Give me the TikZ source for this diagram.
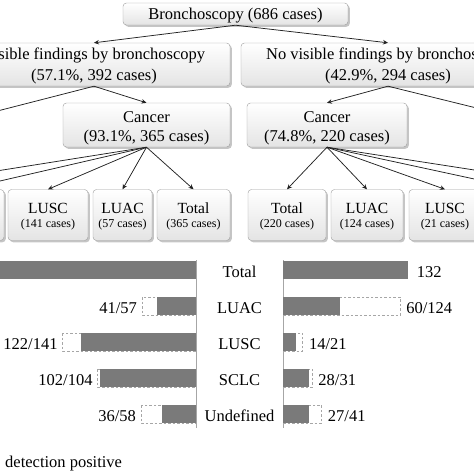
\documentclass[tikz,border=0pt]{standalone}
\usepackage{fontspec}
\setmainfont{Liberation Serif}
\usetikzlibrary{arrows.meta,shadows}
\definecolor{boxline}{HTML}{9C9C9C}
\definecolor{boxshade}{HTML}{E4E4E4}
\definecolor{barfill}{HTML}{7A7A7A}
\definecolor{axisgray}{HTML}{A6A6A6}
\definecolor{linkgray}{HTML}{222222}
\tikzset{
  casebox/.style={draw=boxline, rounded corners=3.5pt, align=center,
    top color=white, bottom color=boxshade, inner sep=0pt,
    drop shadow={shadow xshift=1.8pt, shadow yshift=-1.8pt, fill=black!45},
    font=\fontsize{16.5}{19}\selectfont},
  typebox/.style={casebox, minimum height=51pt, font=\fontsize{15.5}{16}\selectfont},
  link/.style={-{Stealth[length=5pt,width=4.5pt]}, line width=0.75pt, draw=linkgray},
  dashbox/.style={draw=axisgray, dash pattern=on 2.5pt off 2pt, line width=0.7pt},
  barlabel/.style={inner sep=0pt, yshift=-1.8pt, font=\fontsize{16.5}{18}\selectfont}
}
% text lines of a box, lowered a little inside it
\newcommand{\boxlines}[2]{\raisebox{#1}[0pt][0pt]{\begin{tabular}{@{}c@{}}#2\end{tabular}}}
\newcommand{\ncases}[1]{\\[-2.5pt]{\fontsize{12}{13}\selectfont(#1 cases)}}

\begin{document}
\begin{tikzpicture}[x=1pt,y=-1pt]
  \useasboundingbox (0,0) rectangle (474,474);
  \clip (0,0) rectangle (474,474);

  % flow chart
  \node[casebox, minimum width=225pt, minimum height=22pt] (bron) at (235.5,14)
    {\boxlines{-6.5pt}{Bronchoscopy (686 cases)}};
  \node[casebox, minimum width=272pt, minimum height=43pt] (vis) at (94,64.5)
    {\boxlines{-6pt}{Visible findings by bronchoscopy\\[2pt](57.1\%, 392 cases)}};
  \node[casebox, minimum width=294pt, minimum height=43pt] (novis) at (388,64.5)
    {\boxlines{-6pt}{No visible findings by bronchoscopy\\[2pt](42.9\%, 294 cases)}};
  \node[casebox, minimum width=167pt, minimum height=44pt] (canL) at (146.5,125)
    {\boxlines{-7.5pt}{Cancer\\(93.1\%, 365 cases)}};
  \node[casebox, minimum width=160pt, minimum height=44pt] (canR) at (327,125)
    {\boxlines{-7.5pt}{Cancer\\(74.8\%, 220 cases)}};
  \coordinate (restL) at (-100,136);
  \coordinate (restR) at (574,132);

  \node[typebox, minimum width=76pt] (undL) at (-119,215) {};
  \node[typebox, minimum width=80pt] (sclcL) at (-36,215) {};
  \node[typebox, minimum width=80pt] (luscL) at (48,215) {\boxlines{-6pt}{LUSC\ncases{141}}};
  \node[typebox, minimum width=59pt] (luacL) at (122.5,215) {\boxlines{-6pt}{LUAC\ncases{57}}};
  \node[typebox, minimum width=73pt] (totL) at (193.5,215) {\boxlines{-6pt}{Total\ncases{365}}};
  \node[typebox, minimum width=78pt] (totR) at (287,215) {\boxlines{-6pt}{Total\ncases{220}}};
  \node[typebox, minimum width=72pt] (luacR) at (367,215) {\boxlines{-6pt}{LUAC\ncases{124}}};
  \node[typebox, minimum width=72pt] (luscR) at (445,215) {\boxlines{-6pt}{LUSC\ncases{21}}};
  \node[typebox, minimum width=72pt] (sclcR) at (522,215) {};
  \node[typebox, minimum width=72pt] (undR) at (599,215) {};

  \draw[link] (bron.south) -- (vis.north);
  \draw[link] (bron.south) -- (novis.north);
  \draw[link] (vis.south) -- (canL.north);
  \draw[link] (vis.south) -- (restL);
  \draw[link] (novis.south) -- (canR.north);
  \draw[link] (novis.south) -- (restR);
  \foreach \kid in {undL,sclcL,luscL,luacL,totL}
    \draw[link] (canL.south) -- (\kid.north);
  \foreach \kid in {totR,luacR,luscR,sclcR,undR}
    \draw[link] (canR.south) -- (\kid.north);

  % bar chart
  \def\sc{0.945}
  \draw[axisgray, line width=0.8pt] (196,260) -- (196,428);
  \draw[axisgray, line width=0.8pt] (283,260) -- (283,428);
  \fill[barfill] (-100,261) rectangle (196,279);
  \fill[barfill] (283,261) rectangle ({283+\sc*132},279);
  \node[barlabel, anchor=west] (totN) at ({292+\sc*132},270) {132};
  \node[barlabel] (totC) at (239.5,270) {Total};
  \foreach \cat/\lp/\lt/\rp/\rt [count=\i] in
      {LUAC/41/57/60/124, LUSC/122/141/14/21, SCLC/102/104/28/31, Undefined/36/58/27/41}{
    \pgfmathsetmacro\yc{270+36*\i}
    \draw[dashbox] ({196-\sc*\lt},\yc-9) rectangle (196,\yc+9);
    \fill[barfill] ({196-\sc*\lp},\yc-9) rectangle (196,\yc+9);
    \draw[dashbox] (283,\yc-9) rectangle ({283+\sc*\rt},\yc+9);
    \fill[barfill] (283,\yc-9) rectangle ({283+\sc*\rp},\yc+9);
    \node[barlabel, anchor=east] (numL\i) at ({191-\sc*\lt},\yc) {\lp/\lt};
    \node[barlabel, anchor=west] (numR\i) at ({289+\sc*\rt},\yc) {\rp/\rt};
    \node[barlabel] (cat\i) at (239.5,\yc) {\cat};
  }
  \node[barlabel, anchor=west] (legend) at (5,462) {detection positive};
\end{tikzpicture}
\end{document}
